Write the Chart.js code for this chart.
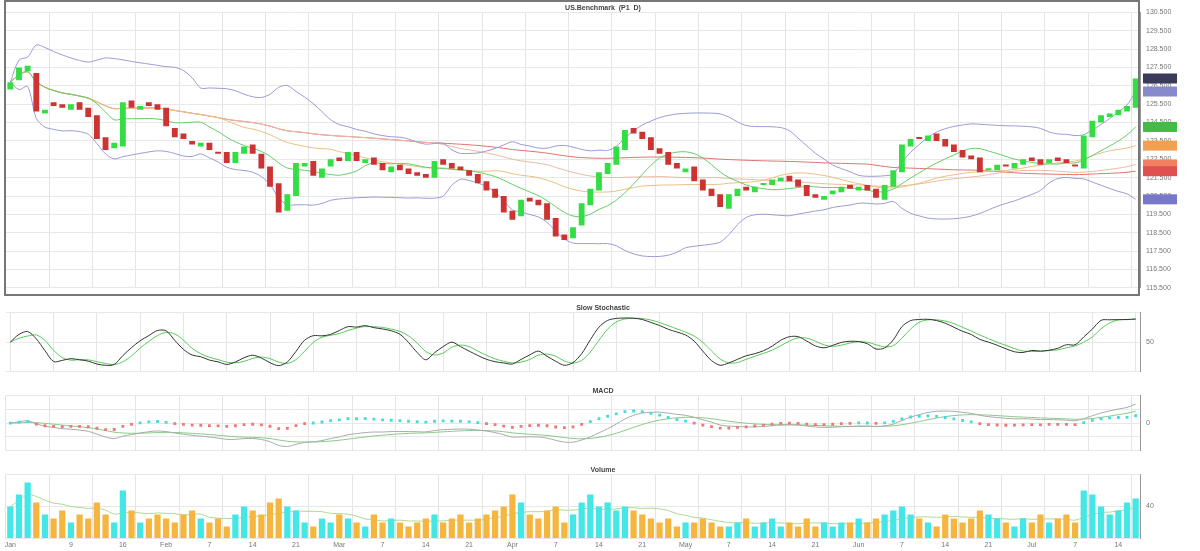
<!DOCTYPE html>
<html><head><meta charset="utf-8">
<script src="https://cdn.jsdelivr.net/npm/chart.js@4"></script>
<style>
body{margin:0;background:#fff;width:1200px;height:551px;overflow:hidden;font-family:"DejaVu Sans",sans-serif}
.p{position:absolute;left:0;width:1200px}
#f{position:absolute;left:4px;top:0;width:1136px;height:296px;border:2px solid #777;box-sizing:border-box;pointer-events:none}
</style></head><body>
<div class="p" style="top:0;height:298px"><canvas id="c1"></canvas></div>
<div class="p" style="top:300px;height:82px"><canvas id="c2"></canvas></div>
<div class="p" style="top:383px;height:78px"><canvas id="c3"></canvas></div>
<div class="p" style="top:462px;height:89px"><canvas id="c4"></canvas></div>
<div id="f"></div>
<script>
const closes=[126.7,127.5,127.6,125.1,125.2,125.4,125.3,125.5,125.2,124.8,123.6,123.0,123.4,125.6,125.3,125.4,125.4,125.2,124.3,123.7,123.6,123.3,123.4,123.0,122.8,122.3,122.9,123.2,122.8,122.0,121.0,119.6,120.6,122.3,122.3,121.6,122.0,122.5,122.4,122.9,122.4,122.5,122.2,121.9,122.1,121.9,121.7,121.6,121.5,122.4,122.2,122.0,121.9,121.6,121.2,120.8,120.4,119.6,119.2,120.3,120.2,120.0,119.2,118.3,118.1,118.8,120.1,120.9,121.8,122.3,123.2,124.1,123.9,123.6,123.0,122.8,122.2,122.0,122.0,121.3,120.8,120.5,119.9,120.6,120.9,120.8,121.0,121.2,121.4,121.5,121.3,121.0,120.5,120.4,120.5,120.8,121.0,120.9,121.0,120.8,120.4,121.1,121.9,123.3,123.6,123.6,123.8,123.5,123.2,122.9,122.6,122.5,121.8,122.0,122.2,122.1,122.3,122.5,122.4,122.2,122.5,122.4,122.3,122.1,123.8,124.6,124.9,125.0,125.2,125.4,126.9];
const opens=[126.3,126.8,127.3,127.2,125.0,125.6,125.5,125.2,125.6,125.3,124.9,123.7,123.1,123.2,125.7,125.2,125.6,125.5,125.3,124.2,123.9,123.5,123.2,123.4,122.9,122.9,122.3,122.8,123.3,122.8,122.1,121.2,119.7,120.5,122.1,122.4,121.5,122.1,122.6,122.4,122.9,122.3,122.6,122.3,121.8,122.2,122.0,121.8,121.7,121.5,122.5,122.3,122.1,121.9,121.7,121.3,120.9,120.5,119.7,119.4,120.4,120.3,120.1,119.3,118.4,118.2,118.9,120.0,120.8,121.7,122.2,123.0,124.2,124.0,123.7,123.1,122.9,122.3,121.8,122.1,121.4,120.9,120.6,119.8,120.5,121.0,120.7,121.1,121.1,121.3,121.6,121.4,121.1,120.6,120.3,120.6,120.7,121.1,120.8,121.1,120.9,120.3,121.0,121.8,123.2,123.7,123.5,123.9,123.6,123.3,123.0,122.7,122.6,121.9,121.9,122.2,122.0,122.2,122.6,122.5,122.3,122.6,122.5,122.2,122.0,123.7,124.5,124.8,124.9,125.1,125.3];
const volumes=[40,55,70,45,30,25,35,20,30,25,45,30,20,60,35,20,25,30,25,20,30,35,25,20,25,15,30,40,35,30,45,50,40,35,20,15,25,20,30,25,20,15,30,20,25,20,15,20,25,30,20,25,30,20,25,30,35,40,55,45,30,25,35,40,20,30,45,55,40,45,35,40,35,30,25,20,25,15,20,20,25,20,15,15,20,25,15,20,25,15,20,15,25,15,20,15,20,20,25,20,25,30,35,40,30,25,20,15,30,25,20,25,35,30,25,20,15,25,20,30,20,25,30,20,60,55,40,30,35,45,50];
const tickLabels=[[0,'Jan'],[7,'9'],[13,'16'],[18,'Feb'],[23,'7'],[28,'14'],[33,'21'],[38,'Mar'],[43,'7'],[48,'14'],[53,'21'],[58,'Apr'],[63,'7'],[68,'14'],[73,'21'],[78,'May'],[83,'7'],[88,'14'],[93,'21'],[98,'Jun'],[103,'7'],[108,'14'],[113,'21'],[118,'Jul'],[123,'7'],[128,'14']];
const labels=closes.map((_,i)=>String(i));
const tickMap=Object.fromEntries(tickLabels);

function sma(a,n){return a.map((_,i)=>{const s=a.slice(Math.max(0,i-n+1),i+1);return s.reduce((x,y)=>x+y,0)/s.length;});}
function ema(a,n){const k=2/(n+1);let e=a[0];return a.map(v=>e=v*k+e*(1-k));}
const m20=sma(closes,20);
const bbU=m20.map((m,i)=>{const s=closes.slice(Math.max(0,i-19),i+1);const sd=Math.sqrt(s.reduce((x,y)=>x+(y-m)**2,0)/s.length);return m+2*sd;});
const bbL=m20.map((m,i)=>2*m-bbU[i]);
const ma10=sma(closes,10),ma25=sma(closes,25),ma50=sma(closes,50),ma100=sma(closes,100);
const kRaw=closes.map((c,i)=>{const s=closes.slice(Math.max(0,i-13),i+1);const hi=Math.max(...s)+0.3,lo=Math.min(...s)-0.3;return (c-lo)/(hi-lo)*100;});
const kS=sma(kRaw,3),dS=sma(kS,3);
const macd=ema(closes,12).map((v,i)=>v-ema(closes,26)[i]);
const sig=ema(macd,9);const hist=macd.map((v,i)=>v-sig[i]);
const vma=sma(volumes,10);

const up=closes.map((c,i)=>c>=opens[i]);
const grid={color:c=>c.index%5===0?'#e4e4e4':'rgba(0,0,0,0)',drawTicks:false};
function xs(show){return{type:'category',offset:true,grid,border:{display:false},ticks:{display:show,autoSkip:false,maxRotation:0,font:{size:7},color:'#777',padding:2,callback:(v,i)=>tickMap[i]??''}};}
function ys(min,max,step,fmt){return{position:'right',min,max,grid:{color:'#e8e8e8',drawTicks:false},border:{color:'#999'},afterFit:s=>{s.width=60},ticks:{stepSize:step,font:{size:7},color:'#777',padding:6,callback:fmt}};}
const tagPlugin={id:'tags',afterDraw(ch){const ctx=ch.ctx,ya=ch.scales.y;ch.data.datasets.forEach(d=>{if(!d.tag)return;const v=d.data[d.data.length-1];const y=ya.getPixelForValue(Array.isArray(v)?v[1]:v);ctx.fillStyle=d.tag;ctx.fillRect(ya.left+3,y-5,34,10);});}};
const base={responsive:true,maintainAspectRatio:false,animation:false,layout:{padding:{left:6,top:2}},plugins:{legend:{display:false},tooltip:{enabled:false}}};
function title(t){return{display:true,text:t,font:{size:7},color:'#444',padding:{top:2,bottom:0}};}
function line(data,color,w,tag){return{type:'line',data,borderColor:color,borderWidth:w||1,pointRadius:0,tension:0.3,tag};}

new Chart(c1,{type:'bar',data:{labels,datasets:[
 {data:closes.map((c,i)=>[opens[i],c]),backgroundColor:up.map(u=>u?'#33dd44':'#cc3333'),categoryPercentage:0.9,barPercentage:0.75,minBarLength:2,tag:'#3a3a5a'},
 line(bbU,'#9a9ad8',1,'#8888cc'),line(bbL,'#9a9ad8',1,'#7777cc'),
 line(ma10,'#66cc66',1,'#44bb44'),line(ma25,'#e8c080',1,'#f0a050'),line(ma50,'#f0b8a0',1,'#f08060'),line(ma100,'#e07070',1,'#e05050')
]},options:{...base,plugins:{...base.plugins,title:title('US.Benchmark  (P1  D)')},scales:{x:xs(false),y:ys(115.5,130.5,1,v=>v.toFixed(3))}},plugins:[tagPlugin]});

new Chart(c2,{type:'line',data:{labels,datasets:[line(kS,'#333',1),line(dS,'#55cc55',1)]},options:{...base,plugins:{...base.plugins,title:title('Slow Stochastic')},scales:{x:xs(false),y:ys(-5,105,50,v=>v===50?'50':'')}},plugins:[tagPlugin]});

new Chart(c3,{type:'bar',data:{labels,datasets:[
 {type:'line',data:hist.map(v=>v*1),borderWidth:0,pointRadius:2,pointStyle:'rect',pointBackgroundColor:hist.map(v=>v>=0?'#44dddd':'#ee7777'),showLine:false},
 line(macd,'#aaa',1),line(sig,'#88cc88',1)
]},options:{...base,plugins:{...base.plugins,title:title('MACD')},scales:{x:xs(false),y:ys(-1.4,1.4,0.7,v=>v===0?'0':'')}}});

new Chart(c4,{type:'bar',data:{labels,datasets:[
 {data:volumes,backgroundColor:up.map(u=>u?'#44e6e6':'#f5b640'),categoryPercentage:0.9,barPercentage:0.8},
 line(vma,'#b0d890',1)
]},options:{...base,plugins:{...base.plugins,title:title('Volume')},scales:{x:xs(true),y:ys(0,80,40,v=>v===40?'40':'')}}});
</script></body></html>
